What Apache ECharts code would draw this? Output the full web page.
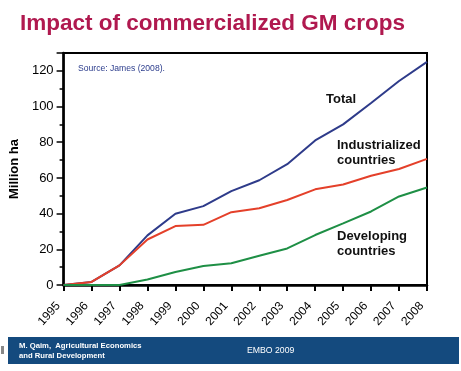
<!DOCTYPE html>
<html><head><meta charset="utf-8">
<script src="https://cdn.jsdelivr.net/npm/echarts@6/dist/echarts.min.js"></script>
<style>html,body{margin:0;padding:0;background:#fff}#c{width:461px;height:371px}</style>
</head><body><div id="c"></div>
<script>
const years = ['1995','1996','1997','1998','1999','2000','2001','2002','2003','2004','2005','2006','2007','2008'];
const total = [0, 1.7, 11, 27.8, 39.9, 44.2, 52.6, 58.7, 67.7, 81, 90, 102, 114.3, 125];
const industrialized = [0, 1.7, 11, 25.5, 33, 33.7, 40.8, 43, 47.6, 53.6, 56.3, 61.2, 65, 70.7];
const developing = [0, 0, 0, 3.1, 7.3, 10.7, 12.2, 16.4, 20.5, 28, 34.5, 41.2, 49.6, 54.6];
const yTicks = [0, 20, 40, 60, 80, 100, 120];

const chart = echarts.init(document.getElementById('c'), null, {renderer:'canvas'});
const F = 'Liberation Sans, Arial, sans-serif';
function line(name, data, color){
  return {name, type:'line', data, symbol:'none', smooth:false,
    lineStyle:{color, width:2}, itemStyle:{color}, z:3};
}
chart.setOption({
  animation:false,
  title:{text:'Impact of commercialized GM crops', left:15, top:7,
    textStyle:{color:'#B0194F', fontSize:22.5, fontWeight:'bold', fontFamily:F}},
  grid:{left:62, right:34, top:53, bottom:86, show:true, borderColor:'#000', borderWidth:2, backgroundColor:'transparent'},
  xAxis:{type:'category', data:years, boundaryGap:false,
    axisLine:{lineStyle:{color:'#000', width:2.5}},
    axisTick:{show:true, interval:0, length:6, lineStyle:{color:'#000', width:2}},
    axisLabel:{rotate:48, interval:0, color:'#000', fontSize:12, fontFamily:F, margin:13, padding:[0,8,0,0]},
    splitLine:{show:false}},
  yAxis:[{type:'value', min:0, max:130, interval:20,
    name:'Million ha', nameLocation:'middle', nameGap:35, nameRotate:90,
    nameTextStyle:{color:'#000', fontSize:13, fontWeight:'bold', fontFamily:F},
    axisLine:{show:true, lineStyle:{color:'#000', width:2.5}},
    axisTick:{show:true, length:7, lineStyle:{color:'#000', width:1.5}},
    axisLabel:{color:'#000', fontSize:13, fontFamily:F, margin:10,
      formatter:v => yTicks.indexOf(v) >= 0 ? String(v) : ''},
    splitLine:{show:false}},
   {type:'value', min:0, max:130, interval:10, position:'left',
    axisLine:{show:false}, axisLabel:{show:false}, splitLine:{show:false},
    axisTick:{show:true, length:4, lineStyle:{color:'#000', width:1.5}}}],
  series:[
    line('Total', total, '#2E3B8A'),
    line('Industrialized countries', industrialized, '#E4402A'),
    line('Developing countries', developing, '#1E8F45')
  ],
  graphic:[
    {type:'text', left:78, top:64, style:{text:'Source: James (2008).', fill:'#2B3C8C', font:'8.6px '+F}},
    {type:'text', left:326, top:93, style:{text:'Total', fill:'#111', font:'bold 13px '+F}},
    {type:'text', left:337, top:138, style:{text:'Industrialized\ncountries', fill:'#111', font:'bold 13px '+F, lineHeight:15}},
    {type:'text', left:337, top:229, style:{text:'Developing\ncountries', fill:'#111', font:'bold 13px '+F, lineHeight:15}},
    {type:'rect', shape:{x:8, y:337, width:451, height:27}, style:{fill:'#144A7E'}},
    {type:'rect', shape:{x:1, y:346, width:3, height:8}, style:{fill:'#888'}},
    {type:'text', left:19, top:341, style:{text:'M. Qaim,  Agricultural Economics\nand Rural Development', fill:'#fff', font:'bold 7.7px '+F, lineHeight:10}},
    {type:'text', left:247, top:346, style:{text:'EMBO 2009', fill:'#fff', font:'8.7px '+F}}
  ]
});
</script></body></html>
